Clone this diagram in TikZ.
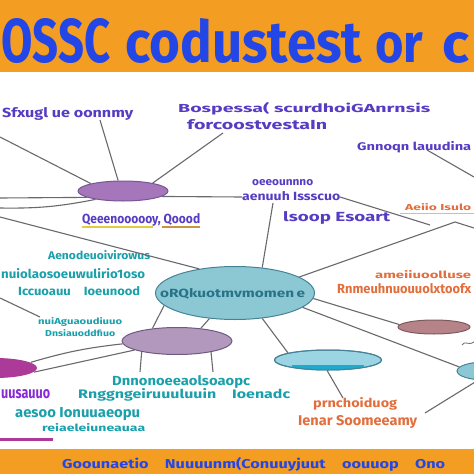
\documentclass[tikz,border=0pt]{standalone}
\usepackage{fontspec}
\setmainfont{Fira Sans}
\usetikzlibrary{shapes.geometric}
\definecolor{banner}{RGB}{243,157,35}
\definecolor{titleblue}{RGB}{35,70,230}
\definecolor{pblue}{RGB}{85,60,195}
\definecolor{tealtxt}{RGB}{25,160,170}
\definecolor{darkteal}{RGB}{40,115,135}
\definecolor{orangetxt}{RGB}{225,110,60}
\definecolor{linegrey}{RGB}{105,105,110}
\definecolor{purplefill}{RGB}{165,118,185}
\definecolor{purpleline}{RGB}{120,85,150}
\definecolor{tealfill}{RGB}{140,200,212}
\definecolor{tealline}{RGB}{70,130,150}
\definecolor{lilacfill}{RGB}{178,152,188}
\definecolor{lilacline}{RGB}{110,90,130}
\definecolor{rosefill}{RGB}{182,132,136}
\definecolor{roseline}{RGB}{125,90,95}
\definecolor{cyanfill}{RGB}{155,212,226}
\definecolor{cyanband}{RGB}{30,170,205}
\definecolor{magentafill}{RGB}{172,58,152}
\definecolor{uyellow}{RGB}{225,205,60}
\definecolor{uolive}{RGB}{200,150,60}
\definecolor{ulight}{RGB}{230,180,150}
\newcommand\fb[3]{\resizebox{#1pt}{#2pt}{#3}}
\begin{document}
\begin{tikzpicture}[x=1pt,y=-1pt,
  lbl/.style={anchor=base west,inner sep=0pt,font=\bfseries},
  conn/.style={draw=linegrey,line width=1.1pt},
  ell/.style={ellipse,inner sep=0pt,line width=1pt}]
\useasboundingbox (0,0) rectangle (474,474);
\clip (0,0) rectangle (474,474);
\fill[white] (0,0) rectangle (474,474);
% banners
\fill[banner] (0,0) rectangle (474,72);
\fill[banner] (0,449) rectangle (474,474);
\node[lbl,text=titleblue] (t1) at (1,62) {\fb{109}{44}{OSSC}};
\node[lbl,text=titleblue] (t2) at (125,62) {\fb{237}{44}{codustest}};
\node[lbl,text=titleblue] (t3) at (375,62) {\fb{48}{30}{or}};
\node[lbl,text=titleblue] (t4) at (442,62) {\fb{27}{30}{c}};
\node[lbl,text=titleblue] (bt) at (62,468) {\fb{383}{11}{Goounaetio\quad Nuuuunm(Conuuyjuut\quad oouuop\quad Ono}};

% ellipses
\node[ell,fill=purplefill,draw=purpleline,minimum width=90pt,minimum height=20pt] (pe1) at (123,191) {};
\node[ell,fill=tealfill,draw=tealline,minimum width=159pt,minimum height=53pt] (te) at (235,293) {};
\node[ell,fill=lilacfill,draw=lilacline,minimum width=110pt,minimum height=27pt] (pe2) at (177,341) {};
\node[ell,fill=rosefill,draw=roseline,minimum width=72pt,minimum height=14pt] (re) at (434,327) {};
\node[ell,fill=cyanfill,draw=tealline,minimum width=107pt,minimum height=20pt] (ce) at (328,360) {};
\begin{scope}
\clip (328,360) ellipse [x radius=53.5,y radius=10];
\fill[cyanband] (292,365) rectangle (364,372);
\end{scope}
\draw[tealline,line width=1pt] (328,360) ellipse [x radius=53.5,y radius=10];
\node[ell,fill=tealfill,draw=tealline,minimum width=56pt,minimum height=18pt] (tr) at (485,371) {};
\node[ell,fill=magentafill,minimum width=84pt,minimum height=20pt] (me) at (-5,368) {};
\fill[magentafill] (0,438) rectangle (53,441);

% labels
\node[lbl,text=pblue] (l1) at (2,117) {\fb{131}{10}{Sfxugl ue oonnmy}};
\node[lbl,text=pblue] (l2) at (178,112) {\fb{252}{10}{Bospessa( scurdhoiGAnrnsis}};
\node[lbl,text=pblue] (l3) at (187,129) {\fb{140}{10}{forcoostvestaIn}};
\node[lbl,text=pblue] (l4) at (357,150) {\fb{114}{9}{Gnnoqn lauudina}};
\node[lbl,text=pblue] (l5) at (252,185) {\fb{61}{6}{oeeounnno}};
\node[lbl,text=pblue] (l6) at (242,200) {\fb{98}{9}{aenuuh Issscuo}};
\node[lbl,text=pblue] (l7) at (283,221) {\fb{107}{10}{lsoop Esoart}};
\node[lbl,text=pblue] (l8) at (82,223) {\fb{118}{10}{Qeeenoooooy, Qoood}};
\fill[uyellow] (82,225.5) rectangle (153,227.5);
\fill[uolive] (162,225.5) rectangle (200,227.5);
\node[lbl,text=orangetxt] (l9) at (405,210) {\fb{66}{7}{Aeiio Isulo}};
\draw[ulight,line width=0.8pt] (400,213) -- (474,213);
\node[lbl,text=tealtxt] (l10) at (48,259) {\fb{102}{9}{Aenodeuoivirowus}};
\node[lbl,text=tealtxt] (l11) at (1,278) {\fb{144}{10}{nuiolaosoeuwulirio1oso}};
\node[lbl,text=tealtxt] (l12) at (18,295) {\fb{122}{9}{Iccuoauu\quad Ioeunood}};
\node[lbl,text=tealtxt] (l13) at (38,324) {\fb{84}{7}{nuiAguaoudiuuo}};
\node[lbl,text=tealtxt] (l14) at (45,336) {\fb{70}{7}{Dnsiauoddfiuo}};
\node[lbl,text=darkteal] (lte) at (160,297) {\fb{145}{9}{oRQkuotmvmomen\,e}};
\node[lbl,text=orangetxt] (l15) at (375,278) {\fb{96}{8}{ameiiuoolluse}};
\node[lbl,text=orangetxt] (l16) at (337,293) {\fb{134}{10}{Rnmeuhnuouuolxtoofx}};
\node[lbl,text=tealtxt] (l17) at (112,385) {\fb{138}{10}{Dnnonoeeaolsoaopc}};
\node[lbl,text=tealtxt] (l18) at (78,398) {\fb{212}{10}{Rnggngeiruuuluuin\quad Ioenadc}};
\node[lbl,text=pblue!70!magenta] (l21) at (1,398) {\fb{49}{9}{uusauuo}};
\node[lbl,text=tealtxt] (l19) at (15,417) {\fb{125}{10}{aesoo Ionuuaeopu}};
\node[lbl,text=tealtxt] (l20) at (42,431) {\fb{103}{8}{reiaeleiuneauaa}};
\node[lbl,text=orangetxt] (l22) at (313,407) {\fb{84}{10}{prnchoiduog}};
\node[lbl,text=orangetxt] (l23) at (298,425) {\fb{119}{10}{Ienar Soomeeamy}};

% free ends
\coordinate (a1) at (0,137);
\coordinate (a2) at (100,120);
\coordinate (a3) at (223,133);
\coordinate (a4) at (242,197);
\coordinate (a5) at (0,198);
\coordinate (a6) at (0,208);
\coordinate (a7) at (0,217);
\coordinate (a8) at (273,203);
\coordinate (k1) at (455,222);
\coordinate (k2) at (474,228);
\coordinate (a9) at (340,197);
\coordinate (a10) at (430,225);
\coordinate (a11) at (427,150);
\coordinate (a12) at (474,177);
\coordinate (a13) at (0,298);
\coordinate (a14) at (40,317);
\coordinate (a15) at (140,372);
\coordinate (a16) at (213,372);
\coordinate (a17) at (343,398);
\coordinate (a18) at (425,413);

% connectors
\draw[conn] (a1) -- (pe1.167);
\draw[conn] (pe1.115) -- (a2);
\draw[conn] (pe1.15) -- (a3);
\draw[conn] (pe1.-8) -- (a4);
\draw[conn] (a5) -- (pe1.190);
\draw[conn] (a6) to[bend right=6] (pe1.197);
\draw[conn] (a7) -- (te.146);
\draw[conn] (te.43) -- (a8);
\draw[conn] (te.14) -- (k1) -- (k2);
\draw[conn] (a9) -- (a10);
\draw[conn] (a11) -- (a12);
\draw[conn] (te.190) -- (pe2.153);
\draw[conn] (te.225) -- (pe2.28);
\draw[conn] (te.-43) -- (ce.170);
\draw[conn] (te.-4) -- (re.176);
\draw[conn] (te.-12) -- (tr.171);
\draw[conn] (a13) -- (a14);
\draw[conn] (pe2.197) -- (a15);
\draw[conn] (pe2.-18) -- (a16);
\draw[conn] (me.9) to[bend left=5] (pe2.183);
\draw[conn] (me.-6) -- (pe2.192);
\draw[conn] (ce.265) -- (a17);
\draw[conn] (a18) -- (tr.233);
\draw[linegrey,line width=0.8pt] (462,345) .. controls (465,340) and (468,346) .. (474,342);
\end{tikzpicture}
\end{document}
